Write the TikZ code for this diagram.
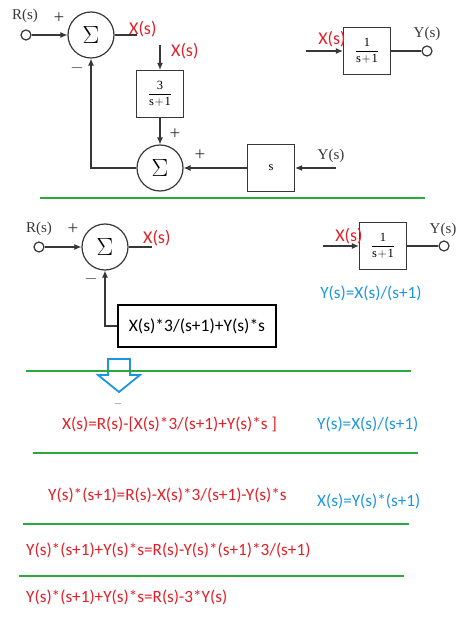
\documentclass[tikz,border=0pt]{standalone}
\usepackage{amsmath}
\usepackage{fontspec}
\setmainfont{Liberation Serif}
\newfontfamily\eqfont{Carlito}
\usetikzlibrary{arrows.meta}
\definecolor{eqred}{RGB}{228,30,38}
\definecolor{eqblue}{RGB}{28,150,222}
\definecolor{sepgreen}{RGB}{40,170,60}
\definecolor{linegray}{RGB}{55,55,55}
\tikzset{
  sumnode/.style={circle,draw=linegray,line width=1.2pt,minimum size=46pt,inner sep=0pt,font=\fontsize{28}{28}\selectfont},
  blk/.style={rectangle,draw=linegray,line width=1.2pt,minimum width=47pt,minimum height=47pt,inner sep=0pt,font=\fontsize{12.5}{13}\selectfont},
  wire/.style={draw=linegray,line width=1.1pt},
  arr/.style={wire,-{Latex[length=7pt,width=6pt]}},
  port/.style={circle,draw=linegray,line width=1.2pt,fill=white,minimum size=10pt,inner sep=0pt},
  lbl/.style={font=\fontsize{15}{16}\selectfont,text=linegray,inner sep=0pt},
  sgn/.style={font=\fontsize{19}{19}\selectfont,text=linegray,inner sep=0pt},
  redlbl/.style={font=\eqfont\fontsize{18}{19}\selectfont,text=eqred,inner sep=0pt},
  eqr/.style={font=\eqfont\fontsize{17.2}{19}\selectfont,text=eqred,inner sep=0pt,anchor=west},
  eqb/.style={font=\eqfont\fontsize{17.2}{19}\selectfont,text=eqblue,inner sep=0pt},
  sep/.style={draw=sepgreen,line width=2pt},
}
\begin{document}
\begin{tikzpicture}[x=1pt,y=-1pt]
\useasboundingbox (0,0) rectangle (474,620);
% ---------- top diagram ----------
\node[port] (r1) at (26,35) {};
\node[lbl] at (25,16) {R(s)};
\node[sumnode] (s1) at (91,35) {$\Sigma$};
\node[sgn] at (59,18) {+};
\node[sgn] at (77,68) {$-$};
\draw[arr] (r1) -- (s1);
\coordinate (x1) at (137,35);
\draw[wire] (s1) -- (x1);
\node[redlbl,anchor=west] at (129,29) {X(s)};
\node[blk] (g1) at (160,94) {$\dfrac{\mathrm{3}}{\mathrm{s\!+\!1}}$};
\coordinate (x2) at (160,45);
\draw[arr] (x2) -- (g1);
\node[redlbl,anchor=west] at (171,51) {X(s)};
\node[sumnode] (s2) at (160,168) {$\Sigma$};
\draw[arr] (g1) -- (s2);
\node[sgn] at (175,134) {+};
\node[sgn] at (200,155) {+};
\node[blk] (h1) at (271,168) {s};
\coordinate (y2) at (336,168);
\draw[arr] (y2) -- (h1);
\node[lbl] at (331,156) {Y(s)};
\draw[arr] (h1) -- (s2);
\draw[arr] (s2.west) -| (s1.south);
% top right
\node[blk] (g2) at (367,51) {$\dfrac{\mathrm{1}}{\mathrm{s\!+\!1}}$};
\coordinate (x3) at (306,51);
\draw[arr] (x3) -- (g2);
\node[redlbl] at (332,39) {X(s)};
\node[port] (y1) at (427,51) {};
\draw[wire] (g2) -- (y1);
\node[lbl] at (427,34) {Y(s)};
% separator
\coordinate (l1a) at (40,198); \coordinate (l1b) at (425,198);
\draw[sep] (l1a) -- (l1b);
% ---------- second diagram ----------
\node[port] (r2) at (39,247) {};
\node[lbl] at (39,229) {R(s)};
\node[sumnode] (s3) at (105,247) {$\Sigma$};
\node[sgn] at (73,229) {+};
\node[sgn] at (91,279) {$-$};
\draw[arr] (r2) -- (s3);
\coordinate (x4) at (152,247);
\draw[wire] (s3) -- (x4);
\node[redlbl,anchor=west] at (143,238) {X(s)};
\node[draw=black,line width=2pt,minimum width=158pt,minimum height=42pt,inner sep=0pt,
      font=\eqfont\fontsize{17.5}{19}\selectfont] (fb) at (197,326) {X(s)*3/(s+1)+Y(s)*s};
\draw[arr] (fb.west) -| (s3.south);
\node[blk] (g3) at (383,246) {$\dfrac{\mathrm{1}}{\mathrm{s\!+\!1}}$};
\coordinate (x5) at (323,246);
\draw[arr] (x5) -- (g3);
\node[redlbl] at (349,236) {X(s)};
\node[port] (y3) at (444,246) {};
\draw[wire] (g3) -- (y3);
\node[lbl] at (443,230) {Y(s)};
\node[eqb] at (371,293) {Y(s)=X(s)/(s+1)};
% hollow arrow
\draw[draw=eqblue,line width=1.8pt,line join=miter]
  (108,375) -- (108,359) -- (130,359) -- (130,375) -- (140,375) -- (119,392) -- (98,375) -- cycle;
\coordinate (l2a) at (26,371); \coordinate (l2b) at (411,371);
\draw[sep] (l2a) -- (l2b);
\draw[draw=gray!60,line width=1pt] (115,403) -- (121,403);
% ---------- equations ----------
\node[eqr] at (62,424) {X(s)=R(s)-[X(s)*3/(s+1)+Y(s)*s ]};
\node[eqb,anchor=west] at (317,424) {Y(s)=X(s)/(s+1)};
\coordinate (l3a) at (33,453); \coordinate (l3b) at (418,453);
\draw[sep] (l3a) -- (l3b);
\node[eqr] at (48,495) {Y(s)*(s+1)=R(s)-X(s)*3/(s+1)-Y(s)*s};
\node[eqb,anchor=west] at (317,501) {X(s)=Y(s)*(s+1)};
\coordinate (l4a) at (23,524); \coordinate (l4b) at (409,524);
\draw[sep] (l4a) -- (l4b);
\node[eqr] at (26,550) {Y(s)*(s+1)+Y(s)*s=R(s)-Y(s)*(s+1)*3/(s+1)};
\coordinate (l5a) at (19,576); \coordinate (l5b) at (404,576);
\draw[sep] (l5a) -- (l5b);
\node[eqr] at (26,597) {Y(s)*(s+1)+Y(s)*s=R(s)-3*Y(s)};
\end{tikzpicture}
\end{document}
